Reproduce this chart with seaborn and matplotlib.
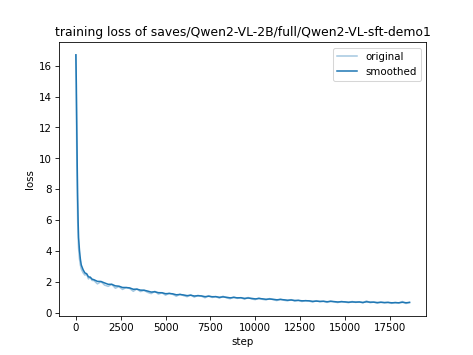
import numpy as np
import pandas as pd
import seaborn as sns
import matplotlib
matplotlib.use("Agg")
import matplotlib.pyplot as plt

# loss values (steps and raw loss)
early_steps = [0, 25, 50, 75, 100, 125, 150, 200, 250, 300, 400, 500, 600, 700, 800, 900]
early_loss = [16.7, 13.5, 10.2, 7.8, 6.0, 4.9, 4.2, 3.5, 3.1, 2.85, 2.6, 2.45, 2.5, 2.2, 2.3, 2.1]

late_steps = list(range(1000, 18601, 200))
late_loss = [
    2.10, 1.88, 2.02, 1.80, 1.72, 1.85, 1.60, 1.70, 1.52, 1.64,
    1.58, 1.40, 1.55, 1.38, 1.46, 1.33, 1.25, 1.40, 1.22, 1.30,
    1.15, 1.28, 1.20, 1.08, 1.22, 1.12, 1.05, 1.18, 1.02, 1.14,
    1.08, 0.98, 1.12, 1.00, 1.06, 0.95, 1.08, 0.97, 0.92, 1.04,
    0.94, 0.99, 0.88, 1.00, 0.90, 0.86, 0.97, 0.88, 0.84, 0.93,
    0.85, 0.80, 0.90, 0.82, 0.78, 0.86, 0.76, 0.82, 0.74, 0.80,
    0.77, 0.70, 0.79, 0.72, 0.76, 0.68, 0.78, 0.71, 0.67, 0.75,
    0.70, 0.66, 0.74, 0.68, 0.72, 0.64, 0.78, 0.66, 0.70, 0.63,
    0.71, 0.65, 0.69, 0.62, 0.68, 0.64, 0.74, 0.61, 0.70,
]

title = "training loss of saves/Qwen2-VL-2B/full/Qwen2-VL-sft-demo1"


def smooth(steps, values):
    # exponential moving average; lighter on the dense early part
    last = values[0]
    out = []
    for s, v in zip(steps, values):
        w = 0.4 if s < 1000 else 0.6
        last = last * w + (1 - w) * v
        out.append(last)
    return out


steps = early_steps + late_steps
loss = early_loss + late_loss
df = pd.DataFrame({"step": steps, "loss": loss})
df["smoothed"] = smooth(steps, loss)

fig, ax = plt.subplots(figsize=(6.4, 4.8), dpi=74)
sns.lineplot(data=df, x="step", y="loss", color="#1f77b4", alpha=0.4, label="original", ax=ax)
sns.lineplot(data=df, x="step", y="smoothed", color="#1f77b4", label="smoothed", ax=ax)
ax.set_title(title)
ax.set_xlabel("step")
ax.set_ylabel("loss")
ax.legend()

plt.savefig("out.png", dpi=74)
